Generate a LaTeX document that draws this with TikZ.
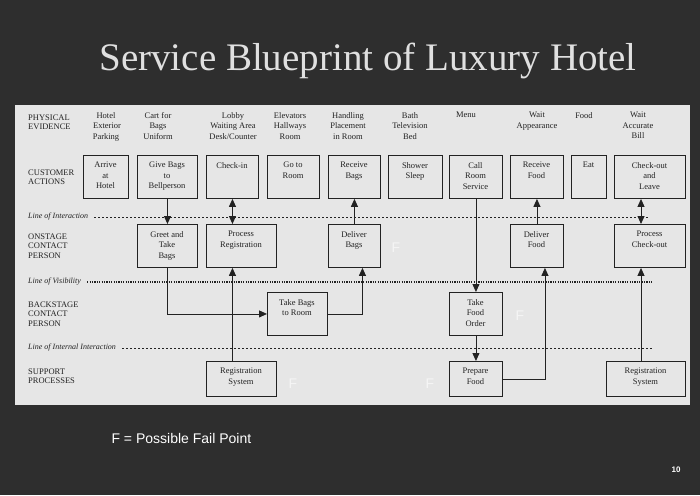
\documentclass[tikz,border=0pt]{standalone}
\usepackage{fontspec}
\setmainfont{Liberation Serif}
\newfontfamily\sansf{Liberation Sans}
\usetikzlibrary{arrows.meta}
\definecolor{bg}{HTML}{2E2E2E}
\definecolor{panel}{HTML}{E6E6E6}
\definecolor{ink}{HTML}{222222}
\begin{document}
\begin{tikzpicture}[x=1pt,y=-1pt,
  bx/.style={draw=ink,line width=0.9pt,fill=panel,align=center,anchor=north west,inner sep=0pt,font=\fontsize{8.5}{9.5}\selectfont,text=ink},
  lbl/.style={anchor=west,align=left,font=\fontsize{8.5}{9.5}\selectfont,text=ink,inner sep=0pt},
  pe/.style={anchor=north,align=center,font=\fontsize{8.5}{10.5}\selectfont,text=ink,inner sep=0pt},
  ln/.style={font=\fontsize{8}{9}\itshape\selectfont,text=ink,anchor=west,inner sep=0pt},
  ar/.style={draw=ink,line width=0.9pt,-{Triangle[length=8pt,width=7pt]}},
  dar/.style={draw=ink,line width=0.9pt,{Triangle[length=8pt,width=7pt]}-{Triangle[length=8pt,width=7pt]}},
  ff/.style={text=white,opacity=0.6,font=\sansf\fontsize{14}{14}\selectfont}]
\useasboundingbox (0,0) rectangle (700,495);
\fill[bg] (0,0) rectangle (700,495);
\fill[panel] (15,105) rectangle (690,405);
\node[text=white!88!black,font=\fontsize{39}{42}\selectfont] (title) at (368,61) {Service Blueprint of Luxury Hotel};
\node[text=white,font=\sansf\fontsize{14}{16}\selectfont,anchor=west] (fp) at (108,438) {F = Possible Fail Point};
\node[text=white,font=\sansf\bfseries\fontsize{8}{9}\selectfont] (pg) at (676,470) {10};
% row labels
\node[lbl] (r1) at (28,122) {PHYSICAL\\EVIDENCE};
\node[lbl] (r2) at (28,177) {CUSTOMER\\ACTIONS};
\node[lbl] (r3) at (28,246) {ONSTAGE\\CONTACT\\PERSON};
\node[lbl] (r4) at (28,314) {BACKSTAGE\\CONTACT\\PERSON};
\node[lbl] (r5) at (28,376) {SUPPORT\\PROCESSES};
% physical evidence
\node[pe] (p1) at (106,112) {Hotel\\\ Exterior\\Parking};
\node[pe] (p2) at (158,112) {Cart for\\Bags\\Uniform};
\node[pe] (p3) at (233,112) {Lobby\\Waiting Area\\Desk/Counter};
\node[pe] (p4) at (290,112) {Elevators\\Hallways\\Room};
\node[pe] (p5) at (348,112) {Handling\\Placement\\in Room};
\node[pe] (p6) at (410,112) {Bath\\Television\\Bed};
\node[pe] (p7) at (466,112) {Menu};
\node[pe] (p8) at (537,112) {Wait\\Appearance};
\node[pe] (p9) at (584,112) {Food};
\node[pe] (p10) at (638,112) {Wait\\Accurate\\Bill};
% customer actions
\node[bx,minimum width=45,minimum height=43] (ca1) at (83,155) {};
\node[pe] at (105.5,162) {Arrive\\at\\Hotel};
\node[bx,minimum width=60,minimum height=43] (ca2) at (137,155) {};
\node[pe] at (167,162) {Give Bags\\to\\Bellperson};
\node[bx,minimum width=52,minimum height=43] (ca3) at (206,155) {};
\node[pe] at (232,162) {Check-in};
\node[bx,minimum width=52,minimum height=43] (ca4) at (267,155) {};
\node[pe] at (293,162) {Go to\\Room};
\node[bx,minimum width=52,minimum height=43] (ca5) at (328,155) {};
\node[pe] at (354,162) {Receive\\Bags};
\node[bx,minimum width=54,minimum height=43] (ca6) at (388,155) {};
\node[pe] at (415,162) {Shower\\Sleep};
\node[bx,minimum width=53,minimum height=43] (ca7) at (449,155) {};
\node[pe] at (475.5,162) {Call\\Room\\Service};
\node[bx,minimum width=53,minimum height=43] (ca8) at (510,155) {};
\node[pe] at (536.5,162) {Receive\\Food};
\node[bx,minimum width=35,minimum height=43] (ca9) at (571,155) {};
\node[pe] at (588.5,162) {Eat};
\node[bx,minimum width=71,minimum height=43] (ca10) at (614,155) {};
\node[pe] at (649.5,162) {Check-out\\and\\Leave};
% lines
\node[ln] (li) at (28,217) {Line of Interaction};
\draw[ink,line width=0.7pt,dash pattern=on 2pt off 2pt] (li.east)+(6,0) -- (650,217);
\node[ln] (lv) at (28,282) {Line of Visibility};
\draw[ink,line width=1.8pt,dash pattern=on 1.2pt off 1.2pt] (lv.east)+(6,0) -- (652,282);
\node[ln] (lii) at (28,348) {Line of Internal Interaction};
\draw[ink,line width=0.7pt,dash pattern=on 2pt off 2pt] (lii.east)+(6,0) -- (652,348);
% onstage
\node[bx,minimum width=60,minimum height=43] (on1) at (137,224) {};
\node[pe] at (167,231) {Greet and\\Take\\Bags};
\node[bx,minimum width=70,minimum height=43] (on2) at (206,224) {};
\node[pe] at (241,231) {Process\\Registration};
\node[bx,minimum width=52,minimum height=43] (on3) at (328,224) {};
\node[pe] at (354,231) {Deliver\\Bags};
\node[bx,minimum width=53,minimum height=43] (on4) at (510,224) {};
\node[pe] at (536.5,231) {Deliver\\Food};
\node[bx,minimum width=71,minimum height=43] (on5) at (614,224) {};
\node[pe] at (649.5,231) {Process\\Check-out};
% backstage
\node[bx,minimum width=60,minimum height=43] (bs1) at (267,292) {};
\node[pe] at (297,299) {Take Bags\\to Room};
\node[bx,minimum width=53,minimum height=43] (bs2) at (449,292) {};
\node[pe] at (475.5,299) {Take\\Food\\Order};
% support
\node[bx,minimum width=70,minimum height=35] (sp1) at (206,361) {};
\node[pe] at (241,368) {Registration\\System};
\node[bx,minimum width=53,minimum height=35] (sp2) at (449,361) {};
\node[pe] at (475.5,368) {Prepare\\Food};
\node[bx,minimum width=79,minimum height=35] (sp3) at (606,361) {};
\node[pe] at (645.5,368) {Registration\\System};
% fail points
\node[ff] (f1) at (396,248) {F};
\node[ff] (f2) at (520,316) {F};
\node[ff] (f3) at (293,384) {F};
\node[ff] (f4) at (430,384) {F};
% arrows
\draw[ar] (ca2.south) -- (on1.north -| ca2.south);
\draw[dar] (ca3.south) -- (on2.north -| ca3.south);
\draw[ar] (on1.south) |- (bs1.west);
\draw[ar] (bs1.east) -| ([xshift=8pt]on3.south);
\draw[ar] (on3.north) -- (ca5.south);
\draw[ar] (sp1.north -| ca3.south) -- (on2.south -| ca3.south);
\draw[ar] (ca7.south) -- (bs2.north);
\draw[ar] (bs2.south) -- (sp2.north);
\draw[ar] (sp2.east) -| ([xshift=8pt]on4.south);
\draw[ar] (on4.north) -- (ca8.south);
\draw[dar] (ca10.south -| 641,0) -- (on5.north -| 641,0);
\draw[ar] (sp3.north -| 641,0) -- (on5.south -| 641,0);
\end{tikzpicture}
\end{document}
